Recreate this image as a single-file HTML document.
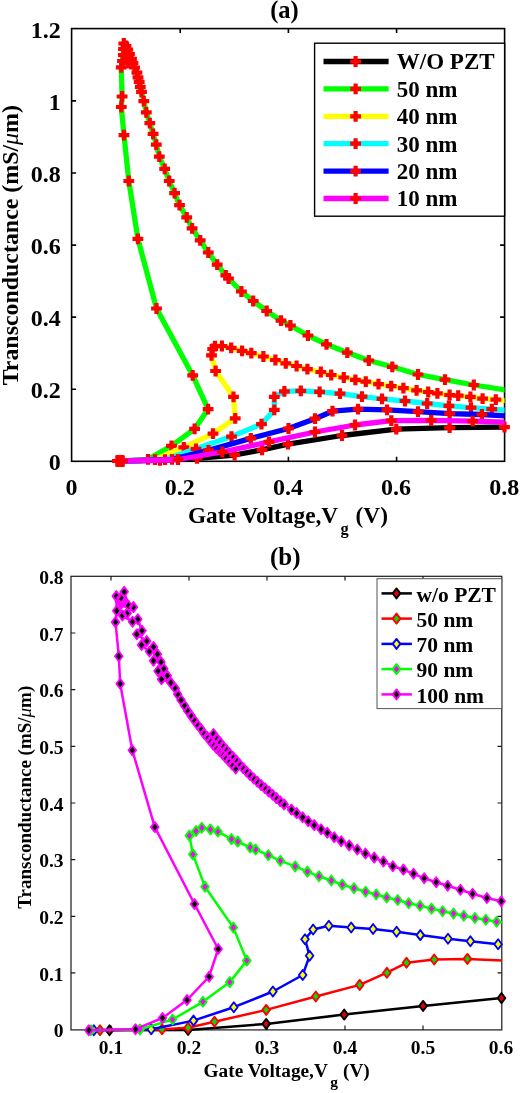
<!DOCTYPE html>
<html><head><meta charset="utf-8"><title>Transconductance vs Gate Voltage</title>
<style>
html,body{margin:0;padding:0;background:#fff;}
svg{display:block;}
text{font-family:"Liberation Serif","Times New Roman",serif;font-weight:bold;fill:#000;}
</style></head><body>
<svg width="520" height="1093" viewBox="0 0 520 1093">
<rect width="520" height="1093" fill="#fff"/>
<defs><clipPath id="ca"><rect x="71.6" y="20.6" width="433" height="448.7"/></clipPath><clipPath id="cb"><rect x="71" y="568.3" width="430.8" height="469.6"/></clipPath></defs>
<g stroke="#000" stroke-width="1.6" fill="none">
<rect x="71.6" y="28.6" width="433" height="432.7"/>
<path d="M180.2,461.3v-4.5M180.2,28.6v4.5M288.4,461.3v-4.5M288.4,28.6v4.5M396.6,461.3v-4.5M396.6,28.6v4.5M71.6,389.2h4.5M504.6,389.2h-4.5M71.6,317.1h4.5M504.6,317.1h-4.5M71.6,245.1h4.5M504.6,245.1h-4.5M71.6,173h4.5M504.6,173h-4.5M71.6,100.9h4.5M504.6,100.9h-4.5"/>
</g>
<g fill="none" stroke-linejoin="round">
<path clip-path="url(#ca)" d="M118,461L122,461L160,460.3L197,458.3L234.6,455L262,449.8L288,444.2L342,435.5L396.3,429.2L449.6,427.7L504.5,427.2" stroke="#000000" stroke-width="5.3"/>
<path d="M112.6,461h10.8M118,455.6v10.8M116.6,461h10.8M122,455.6v10.8M154.6,460.3h10.8M160,454.9v10.8M191.6,458.3h10.8M197,452.9v10.8M229.2,455h10.8M234.6,449.6v10.8M256.6,449.8h10.8M262,444.4v10.8M282.6,444.2h10.8M288,438.8v10.8M336.6,435.5h10.8M342,430.1v10.8M390.9,429.2h10.8M396.3,423.8v10.8M444.2,427.7h10.8M449.6,422.3v10.8M499.1,427.2h10.8M504.5,421.8v10.8" stroke="#ff0000" stroke-width="4.2"/>
<path clip-path="url(#ca)" d="M118,461L121,461L148,459.3L171.5,445.8L194.6,428.8L208.1,409.2L192.7,375.4L156.5,308.5L137.9,238.8L128.8,181L124,135.2L121.3,107L122.1,96.5L121.2,67.3L122.5,61L123.3,55L123.5,49L123.8,43.5L126,46L127.7,49.6L129.5,54L131.5,58.8L133,63L134.6,67.5L136.9,72.7L138,77.3L139.2,81.9L140.3,86.9L141.5,91.9L143.8,101.2L146.3,112.3L149.8,123.1L153.1,133.8L156.3,144.6L159.3,156.7L164.7,168.8L169.2,181L174.6,193.1L179.5,205.2L186.7,217.4L192.1,228.3L200.2,240.4L208.3,252.5L217.2,264.6L225.8,275.4L228.5,278.5L241.4,291.5L253.2,301L266.7,311L281,320.6L290.4,325.5L307.9,335.5L326.5,344.3L347.3,352.6L368.8,360.5L392.3,366.8L418,374.5L445,379.7L473.8,385L532,394" stroke="#00ff00" stroke-width="5.3"/>
<path d="M112.6,461h10.8M118,455.6v10.8M115.6,461h10.8M121,455.6v10.8M142.6,459.3h10.8M148,453.9v10.8M166.1,445.8h10.8M171.5,440.4v10.8M189.2,428.8h10.8M194.6,423.4v10.8M202.7,409.2h10.8M208.1,403.8v10.8M187.3,375.4h10.8M192.7,370v10.8M151.1,308.5h10.8M156.5,303.1v10.8M132.5,238.8h10.8M137.9,233.4v10.8M123.4,181h10.8M128.8,175.6v10.8M118.6,135.2h10.8M124,129.8v10.8M115.9,107h10.8M121.3,101.6v10.8M116.7,96.5h10.8M122.1,91.1v10.8M115.8,67.3h10.8M121.2,61.9v10.8M117.1,61h10.8M122.5,55.6v10.8M117.9,55h10.8M123.3,49.6v10.8M118.1,49h10.8M123.5,43.6v10.8M118.4,43.5h10.8M123.8,38.1v10.8M120.6,46h10.8M126,40.6v10.8M122.3,49.6h10.8M127.7,44.2v10.8M124.1,54h10.8M129.5,48.6v10.8M126.1,58.8h10.8M131.5,53.4v10.8M127.6,63h10.8M133,57.6v10.8M129.2,67.5h10.8M134.6,62.1v10.8M131.5,72.7h10.8M136.9,67.3v10.8M132.6,77.3h10.8M138,71.9v10.8M133.8,81.9h10.8M139.2,76.5v10.8M134.9,86.9h10.8M140.3,81.5v10.8M136.1,91.9h10.8M141.5,86.5v10.8M138.4,101.2h10.8M143.8,95.8v10.8M140.9,112.3h10.8M146.3,106.9v10.8M144.4,123.1h10.8M149.8,117.7v10.8M147.7,133.8h10.8M153.1,128.4v10.8M150.9,144.6h10.8M156.3,139.2v10.8M153.9,156.7h10.8M159.3,151.3v10.8M159.3,168.8h10.8M164.7,163.4v10.8M163.8,181h10.8M169.2,175.6v10.8M169.2,193.1h10.8M174.6,187.7v10.8M174.1,205.2h10.8M179.5,199.8v10.8M181.3,217.4h10.8M186.7,212v10.8M186.7,228.3h10.8M192.1,222.9v10.8M194.8,240.4h10.8M200.2,235v10.8M202.9,252.5h10.8M208.3,247.1v10.8M211.8,264.6h10.8M217.2,259.2v10.8M220.4,275.4h10.8M225.8,270v10.8M223.1,278.5h10.8M228.5,273.1v10.8M236,291.5h10.8M241.4,286.1v10.8M247.8,301h10.8M253.2,295.6v10.8M261.3,311h10.8M266.7,305.6v10.8M275.6,320.6h10.8M281,315.2v10.8M285,325.5h10.8M290.4,320.1v10.8M302.5,335.5h10.8M307.9,330.1v10.8M321.1,344.3h10.8M326.5,338.9v10.8M341.9,352.6h10.8M347.3,347.2v10.8M363.4,360.5h10.8M368.8,355.1v10.8M386.9,366.8h10.8M392.3,361.4v10.8M412.6,374.5h10.8M418,369.1v10.8M439.6,379.7h10.8M445,374.3v10.8M468.4,385h10.8M473.8,379.6v10.8M121.6,57h10.8M127,51.6v10.8M123.1,63h10.8M128.5,57.6v10.8" stroke="#ff0000" stroke-width="4.2"/>
<path clip-path="url(#ca)" d="M118,461L122,461L155,459.6L183.8,447.3L213,433.7L235.2,418.3L233.5,396.9L215.6,371L211.5,355.4L212.7,349L215,346.2L221.9,346L231.2,347.9L242.1,350.8L251.3,353.1L263.4,356.5L275.4,360L285.8,363.3L296.6,366L307.4,369.2L320.8,372L331.2,375L343.8,377.5L355.4,379.8L365.8,381.6L378.5,384.2L391.2,386.2L403.4,388.2L416.6,390.3L428.2,392L437.4,393.3L449.6,395L458.2,395.6L470.4,396.8L482.6,398.6L495.8,399.6L508,401" stroke="#ffff00" stroke-width="5.3"/>
<path d="M112.6,461h10.8M118,455.6v10.8M116.6,461h10.8M122,455.6v10.8M149.6,459.6h10.8M155,454.2v10.8M178.4,447.3h10.8M183.8,441.9v10.8M207.6,433.7h10.8M213,428.3v10.8M229.8,418.3h10.8M235.2,412.9v10.8M228.1,396.9h10.8M233.5,391.5v10.8M210.2,371h10.8M215.6,365.6v10.8M206.1,355.4h10.8M211.5,350v10.8M207.3,349h10.8M212.7,343.6v10.8M209.6,346.2h10.8M215,340.8v10.8M216.5,346h10.8M221.9,340.6v10.8M225.8,347.9h10.8M231.2,342.5v10.8M236.7,350.8h10.8M242.1,345.4v10.8M245.9,353.1h10.8M251.3,347.7v10.8M258,356.5h10.8M263.4,351.1v10.8M270,360h10.8M275.4,354.6v10.8M280.4,363.3h10.8M285.8,357.9v10.8M291.2,366h10.8M296.6,360.6v10.8M302,369.2h10.8M307.4,363.8v10.8M315.4,372h10.8M320.8,366.6v10.8M325.8,375h10.8M331.2,369.6v10.8M338.4,377.5h10.8M343.8,372.1v10.8M350,379.8h10.8M355.4,374.4v10.8M360.4,381.6h10.8M365.8,376.2v10.8M373.1,384.2h10.8M378.5,378.8v10.8M385.8,386.2h10.8M391.2,380.8v10.8M398,388.2h10.8M403.4,382.8v10.8M411.2,390.3h10.8M416.6,384.9v10.8M422.8,392h10.8M428.2,386.6v10.8M432,393.3h10.8M437.4,387.9v10.8M444.2,395h10.8M449.6,389.6v10.8M452.8,395.6h10.8M458.2,390.2v10.8M465,396.8h10.8M470.4,391.4v10.8M477.2,398.6h10.8M482.6,393.2v10.8M490.4,399.6h10.8M495.8,394.2v10.8" stroke="#ff0000" stroke-width="4.2"/>
<path clip-path="url(#ca)" d="M118,461L122,461L165,459.6L196,448.8L231.5,436.6L261.5,424.1L274.3,409.9L274.3,396.8L284.4,391.4L300.8,390.8L319.6,391.8L340,393.6L362,396.7L382,398.8L405,401L427.2,403.5L448.9,405.8L471,407.6L491.8,409.2L514,410.8" stroke="#00ffff" stroke-width="5.3"/>
<path d="M112.6,461h10.8M118,455.6v10.8M116.6,461h10.8M122,455.6v10.8M159.6,459.6h10.8M165,454.2v10.8M190.6,448.8h10.8M196,443.4v10.8M226.1,436.6h10.8M231.5,431.2v10.8M256.1,424.1h10.8M261.5,418.7v10.8M268.9,409.9h10.8M274.3,404.5v10.8M268.9,396.8h10.8M274.3,391.4v10.8M279,391.4h10.8M284.4,386v10.8M295.4,390.8h10.8M300.8,385.4v10.8M314.2,391.8h10.8M319.6,386.4v10.8M334.6,393.6h10.8M340,388.2v10.8M356.6,396.7h10.8M362,391.3v10.8M376.6,398.8h10.8M382,393.4v10.8M399.6,401h10.8M405,395.6v10.8M421.8,403.5h10.8M427.2,398.1v10.8M443.5,405.8h10.8M448.9,400.4v10.8M465.6,407.6h10.8M471,402.2v10.8M486.4,409.2h10.8M491.8,403.8v10.8" stroke="#ff0000" stroke-width="4.2"/>
<path clip-path="url(#ca)" d="M118,461L122,461L172,459.3L208.5,450.4L250.8,438.4L288.5,428.5L315,418.7L332.5,411.2L358,409.2L387,409.8L418,411.6L449.6,413.6L481.9,414.5L514,416.4" stroke="#0000ff" stroke-width="5.3"/>
<path d="M112.6,461h10.8M118,455.6v10.8M116.6,461h10.8M122,455.6v10.8M166.6,459.3h10.8M172,453.9v10.8M203.1,450.4h10.8M208.5,445v10.8M245.4,438.4h10.8M250.8,433v10.8M283.1,428.5h10.8M288.5,423.1v10.8M309.6,418.7h10.8M315,413.3v10.8M327.1,411.2h10.8M332.5,405.8v10.8M352.6,409.2h10.8M358,403.8v10.8M381.6,409.8h10.8M387,404.4v10.8M412.6,411.6h10.8M418,406.2v10.8M444.2,413.6h10.8M449.6,408.2v10.8M476.5,414.5h10.8M481.9,409.1v10.8" stroke="#ff0000" stroke-width="4.2"/>
<path clip-path="url(#ca)" d="M118,461L122,461L178,459.5L222.3,452L268.9,441.9L315,432L355,425L391.3,420.6L431.2,420.4L472.7,421.2L514,422.4" stroke="#ff00ff" stroke-width="5.3"/>
<path d="M112.6,461h10.8M118,455.6v10.8M116.6,461h10.8M122,455.6v10.8M172.6,459.5h10.8M178,454.1v10.8M216.9,452h10.8M222.3,446.6v10.8M263.5,441.9h10.8M268.9,436.5v10.8M309.6,432h10.8M315,426.6v10.8M349.6,425h10.8M355,419.6v10.8M385.9,420.6h10.8M391.3,415.2v10.8M425.8,420.4h10.8M431.2,415v10.8M467.3,421.2h10.8M472.7,415.8v10.8M112.1,461h10.8M117.5,455.6v10.8M114.1,461h10.8M119.5,455.6v10.8M116.1,461h10.8M121.5,455.6v10.8M117.2,461h10.8M122.6,455.6v10.8" stroke="#ff0000" stroke-width="4.2"/>
</g>
<g font-size="24">
<text x="60.8" y="470.1" text-anchor="end">0</text>
<text x="60.8" y="398" text-anchor="end">0.2</text>
<text x="60.8" y="325.9" text-anchor="end">0.4</text>
<text x="60.8" y="253.9" text-anchor="end">0.6</text>
<text x="60.8" y="181.8" text-anchor="end">0.8</text>
<text x="60.8" y="109.7" text-anchor="end">1</text>
<text x="60.8" y="37.6" text-anchor="end">1.2</text>
<text x="71.5" y="494.8" text-anchor="middle">0</text>
<text x="179.7" y="494.8" text-anchor="middle">0.2</text>
<text x="287.9" y="494.8" text-anchor="middle">0.4</text>
<text x="396.1" y="494.8" text-anchor="middle">0.6</text>
<text x="504.3" y="494.8" text-anchor="middle">0.8</text>
</g>
<text x="284.5" y="18.4" font-size="24.5" text-anchor="middle">(a)</text>
<text x="188" y="523.2" font-size="23.3">Gate Voltage,V<tspan x="340.6" y="534.4" font-size="16.4">g</tspan><tspan x="355.6" y="523.2">(V)</tspan></text>
<text transform="translate(18.3,245.2) rotate(-90)" font-size="23.9" text-anchor="middle">Transconductance (mS/<tspan font-style="italic" font-weight="normal">μ</tspan>m)</text>
<rect x="314.6" y="43.2" width="190" height="173" fill="#fff" stroke="#000" stroke-width="1.4"/>
<path d="M323.5,61.5H388.6" stroke="#000000" stroke-width="5.3"/>
<path d="M350.2,61.5h10.8M355.6,56.1v10.8" stroke="#ff0000" stroke-width="4.2" fill="none"/>
<text x="396.8" y="69.3" font-size="23">W/O PZT</text>
<path d="M323.5,88.9H388.6" stroke="#00ff00" stroke-width="5.3"/>
<path d="M350.2,88.9h10.8M355.6,83.5v10.8" stroke="#ff0000" stroke-width="4.2" fill="none"/>
<text x="396.8" y="96.7" font-size="23">50 nm</text>
<path d="M323.5,116.3H388.6" stroke="#ffff00" stroke-width="5.3"/>
<path d="M350.2,116.3h10.8M355.6,110.9v10.8" stroke="#ff0000" stroke-width="4.2" fill="none"/>
<text x="396.8" y="124.1" font-size="23">40 nm</text>
<path d="M323.5,143.7H388.6" stroke="#00ffff" stroke-width="5.3"/>
<path d="M350.2,143.7h10.8M355.6,138.3v10.8" stroke="#ff0000" stroke-width="4.2" fill="none"/>
<text x="396.8" y="151.5" font-size="23">30 nm</text>
<path d="M323.5,171.1H388.6" stroke="#0000ff" stroke-width="5.3"/>
<path d="M350.2,171.1h10.8M355.6,165.7v10.8" stroke="#ff0000" stroke-width="4.2" fill="none"/>
<text x="396.8" y="178.9" font-size="23">20 nm</text>
<path d="M323.5,198.5H388.6" stroke="#ff00ff" stroke-width="5.3"/>
<path d="M350.2,198.5h10.8M355.6,193.1v10.8" stroke="#ff0000" stroke-width="4.2" fill="none"/>
<text x="396.8" y="206.3" font-size="23">10 nm</text>
<g stroke="#1a1a1a" stroke-width="1.2" fill="none">
<rect x="71" y="576.3" width="430.8" height="453.6"/>
<path d="M111,1029.9v-4.3M111,576.3v4.3M189,1029.9v-4.3M189,576.3v4.3M267,1029.9v-4.3M267,576.3v4.3M345,1029.9v-4.3M345,576.3v4.3M423,1029.9v-4.3M423,576.3v4.3M71,972.9h4.3M501.8,972.9h-4.3M71,916.3h4.3M501.8,916.3h-4.3M71,859.6h4.3M501.8,859.6h-4.3M71,803h4.3M501.8,803h-4.3M71,746.3h4.3M501.8,746.3h-4.3M71,689.6h4.3M501.8,689.6h-4.3M71,633h4.3M501.8,633h-4.3"/>
</g>
<g stroke-linejoin="round">
<path clip-path="url(#cb)" d="M109.5,1030.2L188.1,1030L266.2,1023.9L344.2,1014.6L423.1,1005.9L501.5,998.1" stroke="#000000" stroke-width="2.5" fill="none"/>
<path d="M109.5,1025.2l3.8,5l-3.8,5l-3.8,-5zM188.1,1025l3.8,5l-3.8,5l-3.8,-5zM266.2,1018.9l3.8,5l-3.8,5l-3.8,-5zM344.2,1009.6l3.8,5l-3.8,5l-3.8,-5zM423.1,1000.9l3.8,5l-3.8,5l-3.8,-5zM501.5,993.1l3.8,5l-3.8,5l-3.8,-5z" stroke="#000000" stroke-width="1.9" fill="#e00000" stroke-linejoin="round"/>
<path clip-path="url(#cb)" d="M100,1030.2L162,1029.3L188.1,1027.8L214.5,1021.7L266.2,1009.9L315.8,996.5L359.7,984.9L386.9,972.7L406.5,962.8L434.2,959.5L467.4,958.9L540,962" stroke="#ff0000" stroke-width="2.5" fill="none"/>
<path d="M100,1025.2l3.8,5l-3.8,5l-3.8,-5zM162,1024.3l3.8,5l-3.8,5l-3.8,-5zM188.1,1022.8l3.8,5l-3.8,5l-3.8,-5zM214.5,1016.7l3.8,5l-3.8,5l-3.8,-5zM266.2,1004.9l3.8,5l-3.8,5l-3.8,-5zM315.8,991.5l3.8,5l-3.8,5l-3.8,-5zM359.7,979.9l3.8,5l-3.8,5l-3.8,-5zM386.9,967.7l3.8,5l-3.8,5l-3.8,-5zM406.5,957.8l3.8,5l-3.8,5l-3.8,-5zM434.2,954.5l3.8,5l-3.8,5l-3.8,-5zM467.4,953.9l3.8,5l-3.8,5l-3.8,-5z" stroke="#ff0000" stroke-width="1.9" fill="#00e000" stroke-linejoin="round"/>
<path clip-path="url(#cb)" d="M93.8,1030.2L151.2,1029.2L193.5,1020.6L233.8,1007.2L272.9,991.5L302.7,975L309.6,955.8L305,939.2L313.1,929.5L328.8,925.8L351.2,927.5L373.1,929L396.6,931.8L420.3,935.1L448,938.8L470.4,941.3L498.1,944.3L530,948" stroke="#0000ff" stroke-width="2.5" fill="none"/>
<path d="M93.8,1025.2l3.8,5l-3.8,5l-3.8,-5zM151.2,1024.2l3.8,5l-3.8,5l-3.8,-5zM193.5,1015.6l3.8,5l-3.8,5l-3.8,-5zM233.8,1002.2l3.8,5l-3.8,5l-3.8,-5zM272.9,986.5l3.8,5l-3.8,5l-3.8,-5zM302.7,970l3.8,5l-3.8,5l-3.8,-5zM309.6,950.8l3.8,5l-3.8,5l-3.8,-5zM305,934.2l3.8,5l-3.8,5l-3.8,-5zM313.1,924.5l3.8,5l-3.8,5l-3.8,-5zM328.8,920.8l3.8,5l-3.8,5l-3.8,-5zM351.2,922.5l3.8,5l-3.8,5l-3.8,-5zM373.1,924l3.8,5l-3.8,5l-3.8,-5zM396.6,926.8l3.8,5l-3.8,5l-3.8,-5zM420.3,930.1l3.8,5l-3.8,5l-3.8,-5zM448,933.8l3.8,5l-3.8,5l-3.8,-5zM470.4,936.3l3.8,5l-3.8,5l-3.8,-5zM498.1,939.3l3.8,5l-3.8,5l-3.8,-5z" stroke="#0000ff" stroke-width="1.9" fill="#ffff00" stroke-linejoin="round"/>
<path clip-path="url(#cb)" d="M91,1030.2L140,1029.4L172.5,1019.5L202.9,1001.8L229.8,982.1L246.8,960.6L233.3,927.5L205,886.7L192.9,854.4L189.4,835.6L196.1,831L201.8,827.8L210.4,829.4L217.9,831.6L231.4,839.1L237.8,841.6L250.2,847.5L255.6,849.5L268.3,855.2L280.4,860.8L295.2,866.4L307.4,871.6L319,876.3L331.3,880.5L342.3,884.6L354,888.3L365.6,891.8L376.2,894.5L386.7,897.5L397.7,900L408.7,903.2L420,905.8L431.5,908.6L442.6,911.2L453.5,913.5L463.8,915.8L474.9,918L485.8,919.8L496.6,921.8L520,925" stroke="#00ff00" stroke-width="2.5" fill="none"/>
<path d="M91,1025.2l3.8,5l-3.8,5l-3.8,-5zM140,1024.4l3.8,5l-3.8,5l-3.8,-5zM172.5,1014.5l3.8,5l-3.8,5l-3.8,-5zM202.9,996.8l3.8,5l-3.8,5l-3.8,-5zM229.8,977.1l3.8,5l-3.8,5l-3.8,-5zM246.8,955.6l3.8,5l-3.8,5l-3.8,-5zM233.3,922.5l3.8,5l-3.8,5l-3.8,-5zM205,881.7l3.8,5l-3.8,5l-3.8,-5zM192.9,849.4l3.8,5l-3.8,5l-3.8,-5zM189.4,830.6l3.8,5l-3.8,5l-3.8,-5zM196.1,826l3.8,5l-3.8,5l-3.8,-5zM201.8,822.8l3.8,5l-3.8,5l-3.8,-5zM210.4,824.4l3.8,5l-3.8,5l-3.8,-5zM217.9,826.6l3.8,5l-3.8,5l-3.8,-5zM231.4,834.1l3.8,5l-3.8,5l-3.8,-5zM237.8,836.6l3.8,5l-3.8,5l-3.8,-5zM250.2,842.5l3.8,5l-3.8,5l-3.8,-5zM255.6,844.5l3.8,5l-3.8,5l-3.8,-5zM268.3,850.2l3.8,5l-3.8,5l-3.8,-5zM280.4,855.8l3.8,5l-3.8,5l-3.8,-5zM295.2,861.4l3.8,5l-3.8,5l-3.8,-5zM307.4,866.6l3.8,5l-3.8,5l-3.8,-5zM319,871.3l3.8,5l-3.8,5l-3.8,-5zM331.3,875.5l3.8,5l-3.8,5l-3.8,-5zM342.3,879.6l3.8,5l-3.8,5l-3.8,-5zM354,883.3l3.8,5l-3.8,5l-3.8,-5zM365.6,886.8l3.8,5l-3.8,5l-3.8,-5zM376.2,889.5l3.8,5l-3.8,5l-3.8,-5zM386.7,892.5l3.8,5l-3.8,5l-3.8,-5zM397.7,895l3.8,5l-3.8,5l-3.8,-5zM408.7,898.2l3.8,5l-3.8,5l-3.8,-5zM420,900.8l3.8,5l-3.8,5l-3.8,-5zM431.5,903.6l3.8,5l-3.8,5l-3.8,-5zM442.6,906.2l3.8,5l-3.8,5l-3.8,-5zM453.5,908.5l3.8,5l-3.8,5l-3.8,-5zM463.8,910.8l3.8,5l-3.8,5l-3.8,-5zM474.9,913l3.8,5l-3.8,5l-3.8,-5zM485.8,914.8l3.8,5l-3.8,5l-3.8,-5zM496.6,916.8l3.8,5l-3.8,5l-3.8,-5z" stroke="#00ff00" stroke-width="1.9" fill="#ff00ff" stroke-linejoin="round"/>
<path clip-path="url(#cb)" d="M88.8,1030.2L135.5,1029.2L162.5,1018L187,1000L209.1,976.7L218.2,949L194.5,904L154.8,827.1L132.3,750.2L120.2,683.8L118.8,656.2L115.5,622.1L116.7,610.8L116.3,596.1L120.9,597.8L124.2,591.8L128.5,605.7L133.4,607.1L127,613.4L122.4,615.4L132.5,621.8L137.8,619.2L142,630.7L136.8,634.2L146.7,641.1L141.5,645L149.5,651.5L153.5,647L157.4,654.3L153.5,660.8L161,662L163.8,668.8L158,671L167.3,675.8L161.5,679.2L170.8,682.7L175.4,688.5L177.7,694.2L181,700L184.6,705.8L187.8,711L191,715.6L194.4,720.5L197.5,724.8L200.8,728.8L204,733.5L207.1,736.9L210.2,741L213,744.5L216.3,748L219.3,751L222.3,754L225.5,757.5L228.8,761L232,764.5L235.7,768.5L213.5,734L216.5,738L219.7,741.9L222.8,745.7L226.1,749.5L229.4,753.2L232.9,756.9L236.3,760.5L239.6,764.3L243,767.9L246.5,771.5L250,775L253.7,778.5L257.4,781.8L261.2,785.1L265,788.3L268.8,791.6L272.6,794.8L276.4,798.1L280.2,801.3L284.1,804.4L291.5,809.6L296.6,813.1L302.6,817.2L308.2,821.2L314.2,825.1L321.1,829.2L327.3,832.7L334.2,837.3L341.2,841.2L349.2,845.4L357.3,849.5L365.4,853.5L374.2,857.6L383.4,861.5L392.8,866.2L403.4,869.6L413.5,873.8L424.2,878.2L436.2,882.3L447.7,885.8L460.4,889.7L472.6,893.8L486.9,898L501.2,901.2" stroke="#ff00ff" stroke-width="2.5" fill="none"/>
<path d="M121,598.5l3.8,5l-3.8,5l-3.8,-5zM124.5,596.5l3.8,5l-3.8,5l-3.8,-5zM119.5,596l3.8,5l-3.8,5l-3.8,-5z" stroke="#ff00ff" stroke-width="2.2" fill="#ff00ff" stroke-linejoin="round"/>
<path d="M88.8,1025.2l3.8,5l-3.8,5l-3.8,-5zM135.5,1024.2l3.8,5l-3.8,5l-3.8,-5zM162.5,1013l3.8,5l-3.8,5l-3.8,-5zM187,995l3.8,5l-3.8,5l-3.8,-5zM209.1,971.7l3.8,5l-3.8,5l-3.8,-5zM218.2,944l3.8,5l-3.8,5l-3.8,-5zM194.5,899l3.8,5l-3.8,5l-3.8,-5zM154.8,822.1l3.8,5l-3.8,5l-3.8,-5zM132.3,745.2l3.8,5l-3.8,5l-3.8,-5zM120.2,678.8l3.8,5l-3.8,5l-3.8,-5zM118.8,651.2l3.8,5l-3.8,5l-3.8,-5zM115.5,617.1l3.8,5l-3.8,5l-3.8,-5zM116.7,605.8l3.8,5l-3.8,5l-3.8,-5zM116.3,591.1l3.8,5l-3.8,5l-3.8,-5zM120.9,592.8l3.8,5l-3.8,5l-3.8,-5zM124.2,586.8l3.8,5l-3.8,5l-3.8,-5zM128.5,600.7l3.8,5l-3.8,5l-3.8,-5zM133.4,602.1l3.8,5l-3.8,5l-3.8,-5zM127,608.4l3.8,5l-3.8,5l-3.8,-5zM122.4,610.4l3.8,5l-3.8,5l-3.8,-5zM132.5,616.8l3.8,5l-3.8,5l-3.8,-5zM137.8,614.2l3.8,5l-3.8,5l-3.8,-5zM142,625.7l3.8,5l-3.8,5l-3.8,-5zM136.8,629.2l3.8,5l-3.8,5l-3.8,-5zM146.7,636.1l3.8,5l-3.8,5l-3.8,-5zM141.5,640l3.8,5l-3.8,5l-3.8,-5zM149.5,646.5l3.8,5l-3.8,5l-3.8,-5zM153.5,642l3.8,5l-3.8,5l-3.8,-5zM157.4,649.3l3.8,5l-3.8,5l-3.8,-5zM153.5,655.8l3.8,5l-3.8,5l-3.8,-5zM161,657l3.8,5l-3.8,5l-3.8,-5zM163.8,663.8l3.8,5l-3.8,5l-3.8,-5zM158,666l3.8,5l-3.8,5l-3.8,-5zM167.3,670.8l3.8,5l-3.8,5l-3.8,-5zM161.5,674.2l3.8,5l-3.8,5l-3.8,-5zM170.8,677.7l3.8,5l-3.8,5l-3.8,-5zM175.4,683.5l3.8,5l-3.8,5l-3.8,-5zM177.7,689.2l3.8,5l-3.8,5l-3.8,-5zM181,695l3.8,5l-3.8,5l-3.8,-5zM184.6,700.8l3.8,5l-3.8,5l-3.8,-5zM187.8,706l3.8,5l-3.8,5l-3.8,-5zM191,710.6l3.8,5l-3.8,5l-3.8,-5zM194.4,715.5l3.8,5l-3.8,5l-3.8,-5zM197.5,719.8l3.8,5l-3.8,5l-3.8,-5zM200.8,723.8l3.8,5l-3.8,5l-3.8,-5zM204,728.5l3.8,5l-3.8,5l-3.8,-5zM207.1,731.9l3.8,5l-3.8,5l-3.8,-5zM210.2,736l3.8,5l-3.8,5l-3.8,-5zM213,739.5l3.8,5l-3.8,5l-3.8,-5zM216.3,743l3.8,5l-3.8,5l-3.8,-5zM219.3,746l3.8,5l-3.8,5l-3.8,-5zM222.3,749l3.8,5l-3.8,5l-3.8,-5zM225.5,752.5l3.8,5l-3.8,5l-3.8,-5zM228.8,756l3.8,5l-3.8,5l-3.8,-5zM232,759.5l3.8,5l-3.8,5l-3.8,-5zM235.7,763.5l3.8,5l-3.8,5l-3.8,-5zM213.5,729l3.8,5l-3.8,5l-3.8,-5zM216.5,733l3.8,5l-3.8,5l-3.8,-5zM219.7,736.9l3.8,5l-3.8,5l-3.8,-5zM222.8,740.7l3.8,5l-3.8,5l-3.8,-5zM226.1,744.5l3.8,5l-3.8,5l-3.8,-5zM229.4,748.2l3.8,5l-3.8,5l-3.8,-5zM232.9,751.9l3.8,5l-3.8,5l-3.8,-5zM236.3,755.5l3.8,5l-3.8,5l-3.8,-5zM239.6,759.3l3.8,5l-3.8,5l-3.8,-5zM243,762.9l3.8,5l-3.8,5l-3.8,-5zM246.5,766.5l3.8,5l-3.8,5l-3.8,-5zM250,770l3.8,5l-3.8,5l-3.8,-5zM253.7,773.5l3.8,5l-3.8,5l-3.8,-5zM257.4,776.8l3.8,5l-3.8,5l-3.8,-5zM261.2,780.1l3.8,5l-3.8,5l-3.8,-5zM265,783.3l3.8,5l-3.8,5l-3.8,-5zM268.8,786.6l3.8,5l-3.8,5l-3.8,-5zM272.6,789.8l3.8,5l-3.8,5l-3.8,-5zM276.4,793.1l3.8,5l-3.8,5l-3.8,-5zM280.2,796.3l3.8,5l-3.8,5l-3.8,-5zM284.1,799.4l3.8,5l-3.8,5l-3.8,-5zM291.5,804.6l3.8,5l-3.8,5l-3.8,-5zM296.6,808.1l3.8,5l-3.8,5l-3.8,-5zM302.6,812.2l3.8,5l-3.8,5l-3.8,-5zM308.2,816.2l3.8,5l-3.8,5l-3.8,-5zM314.2,820.1l3.8,5l-3.8,5l-3.8,-5zM321.1,824.2l3.8,5l-3.8,5l-3.8,-5zM327.3,827.7l3.8,5l-3.8,5l-3.8,-5zM334.2,832.3l3.8,5l-3.8,5l-3.8,-5zM341.2,836.2l3.8,5l-3.8,5l-3.8,-5zM349.2,840.4l3.8,5l-3.8,5l-3.8,-5zM357.3,844.5l3.8,5l-3.8,5l-3.8,-5zM365.4,848.5l3.8,5l-3.8,5l-3.8,-5zM374.2,852.6l3.8,5l-3.8,5l-3.8,-5zM383.4,856.5l3.8,5l-3.8,5l-3.8,-5zM392.8,861.2l3.8,5l-3.8,5l-3.8,-5zM403.4,864.6l3.8,5l-3.8,5l-3.8,-5zM413.5,868.8l3.8,5l-3.8,5l-3.8,-5zM424.2,873.2l3.8,5l-3.8,5l-3.8,-5zM436.2,877.3l3.8,5l-3.8,5l-3.8,-5zM447.7,880.8l3.8,5l-3.8,5l-3.8,-5zM460.4,884.7l3.8,5l-3.8,5l-3.8,-5zM472.6,888.8l3.8,5l-3.8,5l-3.8,-5zM486.9,893l3.8,5l-3.8,5l-3.8,-5zM501.2,896.2l3.8,5l-3.8,5l-3.8,-5z" stroke="#ff00ff" stroke-width="1.9" fill="#000000" stroke-linejoin="round"/>
</g>
<g font-size="19.5">
<text x="63.6" y="1037.2" text-anchor="end">0</text>
<text x="63.6" y="980.5" text-anchor="end">0.1</text>
<text x="63.6" y="923.9" text-anchor="end">0.2</text>
<text x="63.6" y="867.2" text-anchor="end">0.3</text>
<text x="63.6" y="810.6" text-anchor="end">0.4</text>
<text x="63.6" y="753.9" text-anchor="end">0.5</text>
<text x="63.6" y="697.2" text-anchor="end">0.6</text>
<text x="63.6" y="640.6" text-anchor="end">0.7</text>
<text x="63.6" y="583.9" text-anchor="end">0.8</text>
<text x="111" y="1054.3" text-anchor="middle">0.1</text>
<text x="189" y="1054.3" text-anchor="middle">0.2</text>
<text x="267" y="1054.3" text-anchor="middle">0.3</text>
<text x="345" y="1054.3" text-anchor="middle">0.4</text>
<text x="423" y="1054.3" text-anchor="middle">0.5</text>
<text x="501" y="1054.3" text-anchor="middle">0.6</text>
</g>
<text x="285.3" y="565.3" font-size="25" text-anchor="middle">(b)</text>
<text x="203.6" y="1077.3" font-size="19.3">Gate Voltage,V<tspan x="330.2" y="1087.2" font-size="15.5">g</tspan><tspan x="343" y="1077.3">(V)</tspan></text>
<text transform="translate(31.3,797.2) rotate(-90)" font-size="19" text-anchor="middle">Transconductance (mS/<tspan font-style="italic" font-weight="normal">μ</tspan>m)</text>
<rect x="377" y="578.7" width="124.8" height="129.9" fill="#fff" stroke="#555" stroke-width="1"/>
<path d="M381.5,593.4H411.9" stroke="#000000" stroke-width="2.5"/>
<path d="M396.5,588.4l3.8,5l-3.8,5l-3.8,-5z" stroke="#000000" stroke-width="1.9" fill="#e00000" stroke-linejoin="round"/>
<text x="416.5" y="601.6" font-size="21.5">w/o PZT</text>
<path d="M381.5,618.6H411.9" stroke="#ff0000" stroke-width="2.5"/>
<path d="M396.5,613.6l3.8,5l-3.8,5l-3.8,-5z" stroke="#ff0000" stroke-width="1.9" fill="#00e000" stroke-linejoin="round"/>
<text x="416.5" y="626.9" font-size="21.5">50 nm</text>
<path d="M381.5,643.9H411.9" stroke="#0000ff" stroke-width="2.5"/>
<path d="M396.5,638.9l3.8,5l-3.8,5l-3.8,-5z" stroke="#0000ff" stroke-width="1.9" fill="#ffff00" stroke-linejoin="round"/>
<text x="416.5" y="652.1" font-size="21.5">70 nm</text>
<path d="M381.5,669.1H411.9" stroke="#00ff00" stroke-width="2.5"/>
<path d="M396.5,664.1l3.8,5l-3.8,5l-3.8,-5z" stroke="#00ff00" stroke-width="1.9" fill="#ff00ff" stroke-linejoin="round"/>
<text x="416.5" y="677.4" font-size="21.5">90 nm</text>
<path d="M381.5,694.4H411.9" stroke="#ff00ff" stroke-width="2.5"/>
<path d="M396.5,689.4l3.8,5l-3.8,5l-3.8,-5z" stroke="#ff00ff" stroke-width="1.9" fill="#000000" stroke-linejoin="round"/>
<text x="416.5" y="702.6" font-size="21.5">100 nm</text>
</svg>
</body></html>
